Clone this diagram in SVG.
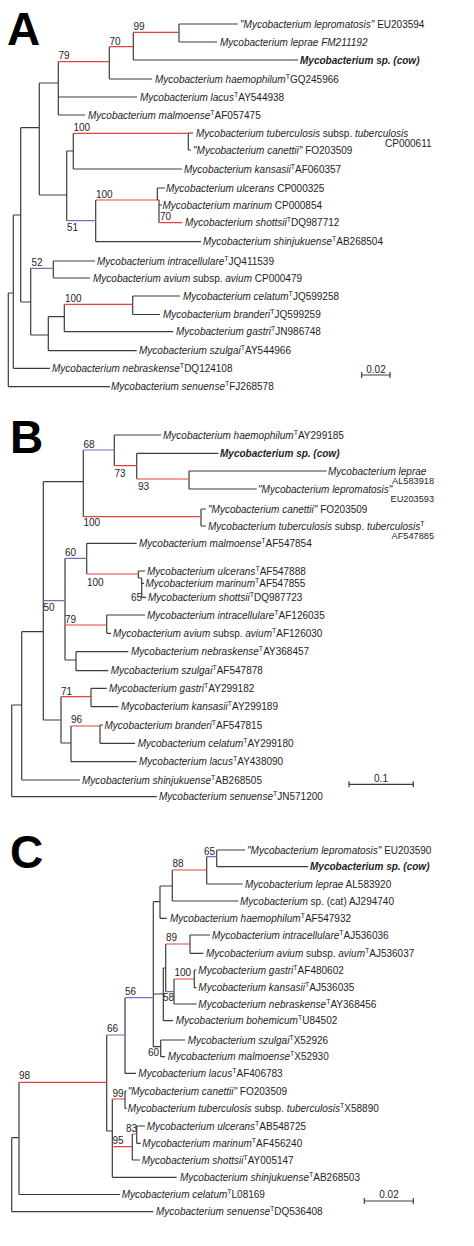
<svg xmlns="http://www.w3.org/2000/svg" width="474" height="1246" viewBox="0 0 474 1246">
<style>
.e{fill:none;stroke:#3c3c3c;stroke-width:1.2}
.r{stroke:#e8403a}
.b{stroke:#6b73c4}
text{font-family:"Liberation Sans",Arial,sans-serif;font-size:10px;fill:#1e1e1e}
.i{font-style:italic}
.bd{font-weight:bold;font-style:italic}
.s{font-size:7px}
.acc{font-size:9.2px}
.lbl{fill:#333}
.big{font-size:46px;font-weight:bold;fill:#000}
</style>
<rect width="474" height="1246" fill="#fff"/>

<!-- ================= PANEL A ================= -->
<g id="panelA">
<text id="A-title" class="big" x="7" y="45">A</text>
<g id="A-connectors">
<path class="e" d="M8.3 293V386.7M8.3 386.7H110M8.3 293H13.3M13.3 215V368.3M13.3 368.3H50M13.3 215H20.7M20.7 127.7V302M20.7 127.7H39.3M39.3 83V195M39.3 83H58.3M58.3 61.7V115M58.3 97H137M58.3 115H85M109.3 46.7V79M109.3 79H152M133.3 32.3V60M133.3 60H298M179 24V42M179 24H238M179 42H217M39.3 195H66.7M66.7 151V220.7M66.7 151H73.3M73.3 133.3V169M73.3 169H182M188.3 133V150M188.3 133H193M188.3 150H191M95.7 200V241.7M95.7 241.7H201M157.3 188V200M157.3 188H165M157.3 200H159M159 200V222.7M159 205H162M20.7 302H30.7M30.7 268.3V335M53.3 261V278M53.3 261H95M53.3 278H90M30.7 335H48.3M48.3 316.7V350.7M48.3 350.7H136.7M48.3 316.7H64.3M64.3 304.3V331.7M64.3 331.7H173.3M132.7 296V314.5M132.7 296H180M132.7 314.5H160"/>
<path class="e r" d="M58.3 61.7H109.3M109.3 46.7H133.3M133.3 32.3H179M73.3 133.3H188.3M95.7 200H157.3M159 222.7H182.3M64.3 304.3H132.7"/>
<path class="e b" d="M66.7 220.7H95.7M30.7 268.3H53.3"/>
</g>
<g id="A-support" class="lbl">
<text x="133.5" y="30">99</text>
<text x="109.5" y="44.5">70</text>
<text x="58.5" y="59">79</text>
<text x="73.5" y="131">100</text>
<text x="96" y="198">100</text>
<text x="160" y="220">70</text>
<text x="67" y="231">51</text>
<text x="31.5" y="266">52</text>
<text x="65" y="302.3">100</text>
</g>
<g id="A-leaf-lepromatosis"><text x="240" y="27.5"><tspan class="i">"Mycobacterium lepromatosis"</tspan> EU203594</text></g>
<g id="A-leaf-leprae"><text class="i" x="220" y="45.5">Mycobacterium leprae FM211192</text></g>
<g id="A-leaf-cow"><text class="bd" x="300" y="63.5">Mycobacterium sp. (cow)</text></g>
<g id="A-leaf-haemophilum"><text x="155" y="82.5"><tspan class="i">Mycobacterium haemophilum</tspan><tspan class="s" dy="-4">T</tspan><tspan dy="4">GQ245966</tspan></text></g>
<g id="A-leaf-lacus"><text x="140" y="100.5"><tspan class="i">Mycobacterium lacus</tspan><tspan class="s" dy="-4">T</tspan><tspan dy="4">AY544938</tspan></text></g>
<g id="A-leaf-malmoense"><text x="88" y="118.5"><tspan class="i">Mycobacterium malmoense</tspan><tspan class="s" dy="-4">T</tspan><tspan dy="4">AF057475</tspan></text></g>
<g id="A-leaf-tuberculosis"><text x="196" y="136.5"><tspan class="i">Mycobacterium tuberculosis</tspan> subsp. <tspan class="i">tuberculosis</tspan></text><text x="385" y="146.5">CP000611</text></g>
<g id="A-leaf-canettii"><text x="193" y="153.5"><tspan class="i">"Mycobacterium canettii"</tspan> FO203509</text></g>
<g id="A-leaf-kansasii"><text x="184" y="172.5"><tspan class="i">Mycobacterium kansasii</tspan><tspan class="s" dy="-4">T</tspan><tspan dy="4">AF060357</tspan></text></g>
<g id="A-leaf-ulcerans"><text x="166" y="191.5"><tspan class="i">Mycobacterium ulcerans</tspan> CP000325</text></g>
<g id="A-leaf-marinum"><text x="162.5" y="208.5"><tspan class="i">Mycobacterium marinum</tspan> CP000854</text></g>
<g id="A-leaf-shottsii"><text x="185" y="226.2"><tspan class="i">Mycobacterium shottsii</tspan><tspan class="s" dy="-4">T</tspan><tspan dy="4">DQ987712</tspan></text></g>
<g id="A-leaf-shinjukuense"><text x="203" y="245.2"><tspan class="i">Mycobacterium shinjukuense</tspan><tspan class="s" dy="-4">T</tspan><tspan dy="4">AB268504</tspan></text></g>
<g id="A-leaf-intracellulare"><text x="97" y="264.5"><tspan class="i">Mycobacterium intracellulare</tspan><tspan class="s" dy="-4">T</tspan><tspan dy="4">JQ411539</tspan></text></g>
<g id="A-leaf-avium"><text x="93" y="281.5"><tspan class="i">Mycobacterium avium</tspan> subsp. <tspan class="i">avium</tspan> CP000479</text></g>
<g id="A-leaf-celatum"><text x="183" y="299.5"><tspan class="i">Mycobacterium celatum</tspan><tspan class="s" dy="-4">T</tspan><tspan dy="4">JQ599258</tspan></text></g>
<g id="A-leaf-branderi"><text x="163" y="318"><tspan class="i">Mycobacterium branderi</tspan><tspan class="s" dy="-4">T</tspan><tspan dy="4">JQ599259</tspan></text></g>
<g id="A-leaf-gastri"><text x="176" y="335.2"><tspan class="i">Mycobacterium gastri</tspan><tspan class="s" dy="-4">T</tspan><tspan dy="4">JN986748</tspan></text></g>
<g id="A-leaf-szulgai"><text x="139" y="354.2"><tspan class="i">Mycobacterium szulgai</tspan><tspan class="s" dy="-4">T</tspan><tspan dy="4">AY544966</tspan></text></g>
<g id="A-leaf-nebraskense"><text x="52" y="371.8"><tspan class="i">Mycobacterium nebraskense</tspan><tspan class="s" dy="-4">T</tspan><tspan dy="4">DQ124108</tspan></text></g>
<g id="A-leaf-senuense"><text x="111" y="390.2"><tspan class="i">Mycobacterium senuense</tspan><tspan class="s" dy="-4">T</tspan><tspan dy="4">FJ268578</tspan></text></g>
<g id="A-scale"><path class="e" d="M361.7 375H390M361.7 372V378M390 372V378"/><text x="376" y="372.5" text-anchor="middle">0.02</text></g>
</g>

<!-- ================= PANEL B ================= -->
<g id="panelB">
<text id="B-title" class="big" x="10" y="453">B</text>
<g id="B-connectors">
<path class="e" d="M11.7 705V796.7M11.7 796.7H156.7M11.7 705H21.7M21.7 631.7V780M21.7 780H80M21.7 631.7H43.3M43.3 481.7V720M43.3 481.7H83.3M83.3 450V516.7M114.3 435V465.7M114.3 435H161M136.7 453.3V479M136.7 453.3H218.3M189 471V489M189 471H326.7M189 489H256.7M201 509V526M201 509H206M201 526H206M65 558.3V660M86.7 543.3V574M86.7 543.3H136.7M138.3 571V578M138.3 571H145M138.3 578H141.7M141.7 578V597.3M141.7 583.3H144M141.7 597.3H146M106.7 615V633.3M106.7 615H145M106.7 633.3H111M65 660H76M76 651.7V670.7M76 651.7H128.3M76 670.7H108.3M43.3 720H61M61 696.7V743M91 688.3V706.7M91 688.3H106.7M91 706.7H118.3M61 743H71M71 726V761.7M100 725V743.3M100 725H103M100 743.3H135M71 761.7H136.7"/>
<path class="e r" d="M114.3 465.7H136.7M136.7 479H189M83.3 516.7H201M86.7 574H138.3M65 625H106.7M61 696.7H91M71 726H100"/>
<path class="e b" d="M83.3 450H114.3M43.3 600.7H65M65 558.3H86.7"/>
</g>
<g id="B-support" class="lbl">
<text x="83.5" y="448">68</text>
<text x="114.5" y="477">73</text>
<text x="138" y="490">93</text>
<text x="83.5" y="526">100</text>
<text x="65" y="556">60</text>
<text x="87" y="585.5">100</text>
<text x="131" y="601">65</text>
<text x="43.5" y="611">50</text>
<text x="65" y="622.5">79</text>
<text x="61" y="694.5">71</text>
<text x="71" y="723">96</text>
</g>
<g id="B-leaf-haemophilum"><text x="163" y="438.5"><tspan class="i">Mycobacterium haemophilum</tspan><tspan class="s" dy="-4">T</tspan><tspan dy="4">AY299185</tspan></text></g>
<g id="B-leaf-cow"><text class="bd" x="220" y="456.8">Mycobacterium sp. (cow)</text></g>
<g id="B-leaf-leprae"><text class="i" x="328" y="474.5">Mycobacterium leprae</text><text class="acc" x="434" y="483.5" text-anchor="end">AL583918</text></g>
<g id="B-leaf-lepromatosis"><text class="i" x="258" y="492.5">"Mycobacterium lepromatosis"</text><text class="acc" x="434" y="501.5" text-anchor="end">EU203593</text></g>
<g id="B-leaf-canettii"><text x="208" y="512.5"><tspan class="i">"Mycobacterium canettii"</tspan> FO203509</text></g>
<g id="B-leaf-tuberculosis"><text x="208" y="529.5"><tspan class="i">Mycobacterium tuberculosis</tspan> subsp. <tspan class="i">tuberculosis</tspan><tspan class="s" dy="-4">T</tspan></text><text class="acc" x="434" y="538.5" text-anchor="end">AF547885</text></g>
<g id="B-leaf-malmoense"><text x="139" y="546.8"><tspan class="i">Mycobacterium malmoense</tspan><tspan class="s" dy="-4">T</tspan><tspan dy="4">AF547854</tspan></text></g>
<g id="B-leaf-ulcerans"><text x="147" y="574.5"><tspan class="i">Mycobacterium ulcerans</tspan><tspan class="s" dy="-4">T</tspan><tspan dy="4">AF547888</tspan></text></g>
<g id="B-leaf-marinum"><text x="145.5" y="586.8"><tspan class="i">Mycobacterium marinum</tspan><tspan class="s" dy="-4">T</tspan><tspan dy="4">AF547855</tspan></text></g>
<g id="B-leaf-shottsii"><text x="148" y="600.8"><tspan class="i">Mycobacterium shottsii</tspan><tspan class="s" dy="-4">T</tspan><tspan dy="4">DQ987723</tspan></text></g>
<g id="B-leaf-intracellulare"><text x="147" y="618.5"><tspan class="i">Mycobacterium intracellulare</tspan><tspan class="s" dy="-4">T</tspan><tspan dy="4">AF126035</tspan></text></g>
<g id="B-leaf-avium"><text x="113" y="636.8"><tspan class="i">Mycobacterium avium</tspan> subsp. <tspan class="i">avium</tspan><tspan class="s" dy="-4">T</tspan><tspan dy="4">AF126030</tspan></text></g>
<g id="B-leaf-nebraskense"><text x="131" y="655.2"><tspan class="i">Mycobacterium nebraskense</tspan><tspan class="s" dy="-4">T</tspan><tspan dy="4">AY368457</tspan></text></g>
<g id="B-leaf-szulgai"><text x="110.7" y="674.2"><tspan class="i">Mycobacterium szulgai</tspan><tspan class="s" dy="-4">T</tspan><tspan dy="4">AF547878</tspan></text></g>
<g id="B-leaf-gastri"><text x="109" y="691.8"><tspan class="i">Mycobacterium gastri</tspan><tspan class="s" dy="-4">T</tspan><tspan dy="4">AY299182</tspan></text></g>
<g id="B-leaf-kansasii"><text x="121" y="710.2"><tspan class="i">Mycobacterium kansasii</tspan><tspan class="s" dy="-4">T</tspan><tspan dy="4">AY299189</tspan></text></g>
<g id="B-leaf-branderi"><text x="104.5" y="728.5"><tspan class="i">Mycobacterium branderi</tspan><tspan class="s" dy="-4">T</tspan><tspan dy="4">AF547815</tspan></text></g>
<g id="B-leaf-celatum"><text x="137.7" y="746.8"><tspan class="i">Mycobacterium celatum</tspan><tspan class="s" dy="-4">T</tspan><tspan dy="4">AY299180</tspan></text></g>
<g id="B-leaf-lacus"><text x="139" y="765.2"><tspan class="i">Mycobacterium lacus</tspan><tspan class="s" dy="-4">T</tspan><tspan dy="4">AY438090</tspan></text></g>
<g id="B-leaf-shinjukuense"><text x="82" y="783.5"><tspan class="i">Mycobacterium shinjukuense</tspan><tspan class="s" dy="-4">T</tspan><tspan dy="4">AB268505</tspan></text></g>
<g id="B-leaf-senuense"><text x="159" y="800.2"><tspan class="i">Mycobacterium senuense</tspan><tspan class="s" dy="-4">T</tspan><tspan dy="4">JN571200</tspan></text></g>
<g id="B-scale"><path class="e" d="M349 784.3H413.3M349 781.3V787.3M413.3 781.3V787.3"/><text x="381" y="781.5" text-anchor="middle">0.1</text></g>
</g>

<!-- ================= PANEL C ================= -->
<g id="panelC">
<text id="C-title" class="big" x="10" y="868">C</text>
<g id="C-connectors">
<path class="e" d="M11.7 1137.7V1211.7M11.7 1211.7H153.3M11.7 1137.7H19M19 1082.3V1194.5M19 1194.5H120M106.7 1035V1131M125 997.7V1073.3M125 1073.3H136M153.3 901.7V1046.7M153.3 901.7H160M160 886V918.3M160 918.3H166.7M160 886H172.3M172.3 870V901M172.3 901H238.3M206.7 856.7V884M206.7 884H242.7M216.7 850V866.7M216.7 850H245M216.7 866.7H308.3M153.3 994H163.3M163.3 968V1020.7M163.3 1020.7H173M163.3 968H165.7M165.7 944V991.7M190 935V953.3M190 935H210M190 953.3H203.3M174 979V1004M194.3 970V987.7M194.3 970H196.5M194.3 987.7H196.5M174 1004H196.7M153.3 1046.7H160.7M160.7 1040V1056.7M160.7 1040H185M160.7 1056.7H165M106.7 1131H112.3M112.3 1099V1177.3M125 1091V1108.3M125 1091H126.7M125 1108.3H126.7M132.3 1134V1160M136.7 1126V1143.3M136.7 1126H145M136.7 1143.3H140.7M132.3 1160H140M112.3 1177.3H176.7"/>
<path class="e r" d="M19 1082.3H106.7M172.3 870H206.7M165.7 944H190M174 979H194.3M112.3 1099H125M112.3 1146.7H132.3M132.3 1134H136.7"/>
<path class="e b" d="M106.7 1035H125M125 997.7H153.3M206.7 856.7H216.7M165.7 991.7H174"/>
</g>
<g id="C-support" class="lbl">
<text x="204" y="855">65</text>
<text x="172.5" y="866.5">88</text>
<text x="166" y="941">89</text>
<text x="174.5" y="975.5">100</text>
<text x="163" y="1001">58</text>
<text x="125" y="994.5">56</text>
<text x="107" y="1032">66</text>
<text x="148" y="1056">60</text>
<text x="19" y="1078.5">98</text>
<text x="112.5" y="1096.5">99</text>
<text x="126" y="1131.5">83</text>
<text x="112.5" y="1143.5">95</text>
</g>
<g id="C-leaf-lepromatosis"><text x="247" y="853.5"><tspan class="i">"Mycobacterium lepromatosis"</tspan> EU203590</text></g>
<g id="C-leaf-cow"><text class="bd" x="310" y="870.2">Mycobacterium sp. (cow)</text></g>
<g id="C-leaf-leprae"><text x="245" y="887.5"><tspan class="i">Mycobacterium leprae</tspan> AL583920</text></g>
<g id="C-leaf-cat"><text x="240" y="904.5"><tspan class="i">Mycobacterium</tspan> sp. (cat) AJ294740</text></g>
<g id="C-leaf-haemophilum"><text x="170" y="921.8"><tspan class="i">Mycobacterium haemophilum</tspan><tspan class="s" dy="-4">T</tspan><tspan dy="4">AF547932</tspan></text></g>
<g id="C-leaf-intracellulare"><text x="212" y="938.5"><tspan class="i">Mycobacterium intracellulare</tspan><tspan class="s" dy="-4">T</tspan><tspan dy="4">AJ536036</tspan></text></g>
<g id="C-leaf-avium"><text x="206" y="956.8"><tspan class="i">Mycobacterium avium</tspan> subsp. <tspan class="i">avium</tspan><tspan class="s" dy="-4">T</tspan><tspan dy="4">AJ536037</tspan></text></g>
<g id="C-leaf-gastri"><text x="198.3" y="973.5"><tspan class="i">Mycobacterium gastri</tspan><tspan class="s" dy="-4">T</tspan><tspan dy="4">AF480602</tspan></text></g>
<g id="C-leaf-kansasii"><text x="198.3" y="991.2"><tspan class="i">Mycobacterium kansasii</tspan><tspan class="s" dy="-4">T</tspan><tspan dy="4">AJ536035</tspan></text></g>
<g id="C-leaf-nebraskense"><text x="198.3" y="1007.5"><tspan class="i">Mycobacterium nebraskense</tspan><tspan class="s" dy="-4">T</tspan><tspan dy="4">AY368456</tspan></text></g>
<g id="C-leaf-bohemicum"><text x="175.7" y="1024.2"><tspan class="i">Mycobacterium bohemicum</tspan><tspan class="s" dy="-4">T</tspan><tspan dy="4">U84502</tspan></text></g>
<g id="C-leaf-szulgai"><text x="187.7" y="1043.5"><tspan class="i">Mycobacterium szulgai</tspan><tspan class="s" dy="-4">T</tspan><tspan dy="4">X52926</tspan></text></g>
<g id="C-leaf-malmoense"><text x="167.7" y="1060.2"><tspan class="i">Mycobacterium malmoense</tspan><tspan class="s" dy="-4">T</tspan><tspan dy="4">X52930</tspan></text></g>
<g id="C-leaf-lacus"><text x="138.3" y="1076.8"><tspan class="i">Mycobacterium lacus</tspan><tspan class="s" dy="-4">T</tspan><tspan dy="4">AF406783</tspan></text></g>
<g id="C-leaf-canettii"><text x="127.7" y="1094.5"><tspan class="i">"Mycobacterium canettii"</tspan> FO203509</text></g>
<g id="C-leaf-tuberculosis"><text x="127.7" y="1111.8"><tspan class="i">Mycobacterium tuberculosis</tspan> subsp. <tspan class="i">tuberculosis</tspan><tspan class="s" dy="-4">T</tspan><tspan dy="4">X58890</tspan></text></g>
<g id="C-leaf-ulcerans"><text x="146.7" y="1129.5"><tspan class="i">Mycobacterium ulcerans</tspan><tspan class="s" dy="-4">T</tspan><tspan dy="4">AB548725</tspan></text></g>
<g id="C-leaf-marinum"><text x="142.3" y="1146.8"><tspan class="i">Mycobacterium marinum</tspan><tspan class="s" dy="-4">T</tspan><tspan dy="4">AF456240</tspan></text></g>
<g id="C-leaf-shottsii"><text x="141.7" y="1163.5"><tspan class="i">Mycobacterium shottsii</tspan><tspan class="s" dy="-4">T</tspan><tspan dy="4">AY005147</tspan></text></g>
<g id="C-leaf-shinjukuense"><text x="180" y="1180.8"><tspan class="i">Mycobacterium shinjukuense</tspan><tspan class="s" dy="-4">T</tspan><tspan dy="4">AB268503</tspan></text></g>
<g id="C-leaf-celatum"><text x="121.7" y="1198"><tspan class="i">Mycobacterium celatum</tspan><tspan class="s" dy="-4">T</tspan><tspan dy="4">L08169</tspan></text></g>
<g id="C-leaf-senuense"><text x="156" y="1215.2"><tspan class="i">Mycobacterium senuense</tspan><tspan class="s" dy="-4">T</tspan><tspan dy="4">DQ536408</tspan></text></g>
<g id="C-scale"><path class="e" d="M364.3 1201H413.3M364.3 1198V1204M413.3 1198V1204"/><text x="389" y="1197.5" text-anchor="middle">0.02</text></g>
</g>
</svg>
